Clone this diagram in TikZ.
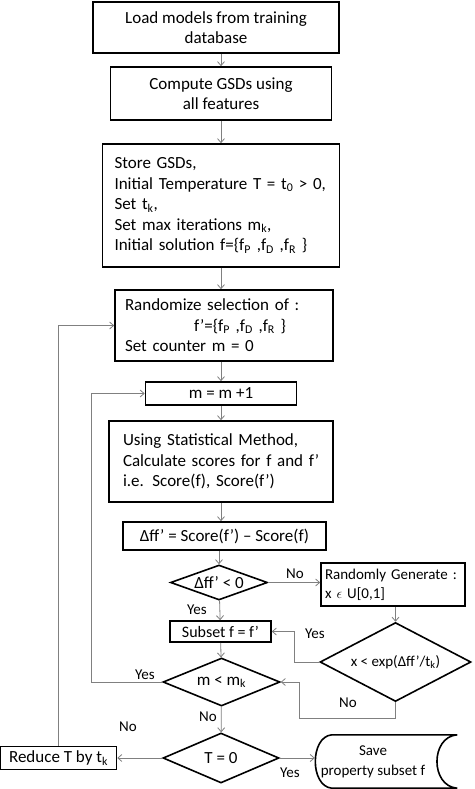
\documentclass[tikz,border=0pt]{standalone}
\usepackage{fontspec}
\setmainfont{Carlito}
\usetikzlibrary{shapes.geometric,arrows.meta}
\newcommand{\tightsp}{\spaceskip=0.17em\relax}

\begin{document}
\begin{tikzpicture}[x=1pt,y=-1pt,
  box/.style={draw,line width=1.6pt,inner sep=2pt,font=\fontsize{17}{20.5}\selectfont},
  lbox/.style={box,align=left,anchor=center,font=\fontsize{17}{20.5}\selectfont\tightsp},
  dia/.style={draw,diamond,line width=1.6pt,inner sep=0pt,font=\fontsize{17}{20}\selectfont},
  conn/.style={draw=gray,line width=.8pt,-{Straight Barb[length=4pt,width=7pt]}},
  lbl/.style={font=\fontsize{15}{18}\selectfont,inner sep=0pt}]
\useasboundingbox (0,0) rectangle (474,789);
\fill[white] (0,0) rectangle (474,789);
\node[box,align=center,minimum width=246,minimum height=51] (load) at (216,27.5) {Load models from training\\database};
\node[box,align=center,minimum width=221,minimum height=53] (comp) at (221,93.5) {Compute GSDs using\\all features};
\node[lbox,text width=213,inner xsep=12pt,minimum height=123] (store) at (221,205.5) {Store GSDs,\\\mbox{Initial Temperature T = t\textsubscript{0} > 0,}\\Set t\textsubscript{k},\\Set max iterations m\textsubscript{k},\\Initial solution f=\{f\textsubscript{P} ,f\textsubscript{D} ,f\textsubscript{R} \}};
\node[lbox,text width=198,inner xsep=10pt,minimum height=71] (rnd) at (224,325.5) {Randomize selection of :\\\hspace*{69pt}f’=\{f\textsubscript{P} ,f\textsubscript{D} ,f\textsubscript{R} \}\\Set counter m = 0};
\node[box,minimum width=151,minimum height=23] (incr) at (221,393.5) {m = m +1};
\node[lbox,text width=196,inner xsep=14pt,minimum height=81] (score) at (221,461.5) {Using Statistical Method,\\\mbox{Calculate scores for f and f’}\\i.e. Score(f), Score(f’)};
\node[box,minimum width=203,minimum height=28] (delta) at (224.5,536) {Δff’ = Score(f’) – Score(f)};
\node[dia,minimum width=97,minimum height=35,aspect=2.8] (chk) at (219,582.5) {Δff’ < 0};
\node[lbox,font=\fontsize{15}{19}\selectfont,text width=136,inner xsep=4pt,minimum height=43] (rgen) at (393,584.5) {Randomly Generate :\\x $\epsilon$ U[0,1]};
\node[box,font=\fontsize{16}{19}\selectfont,minimum width=101,minimum height=21,inner sep=0pt] (subs) at (220.5,631.5) {Subset f = f’};
\node[dia,font=\fontsize{15}{18}\selectfont,minimum width=151,minimum height=79,aspect=1.9] (accept) at (395.5,662) {x < exp(Δff’/t\textsubscript{k})};
\node[dia,minimum width=117,minimum height=48,aspect=2.4] (iter) at (221.5,682) {m < m\textsubscript{k}};
\node[dia,minimum width=116,minimum height=50,aspect=2.3] (stop) at (221,758) {T = 0};
\node[box,minimum width=116,minimum height=23,inner sep=0pt] (reduce) at (58.5,758) {Reduce T by t\textsubscript{k}};
\node[align=center,font=\fontsize{15}{20}\selectfont,minimum width=116,minimum height=53,inner sep=0pt] (save) at (373,761.5) {Save\\property subset f};
\draw[line width=1.6pt] ([xshift=17pt]save.north west) -- ([xshift=26pt]save.north east)
  .. controls ([xshift=-1pt,yshift=-2pt]save.north east) and ([xshift=-1pt,yshift=2pt]save.south east) .. ([xshift=26pt]save.south east)
  -- ([xshift=17pt]save.south west)
  .. controls ([xshift=-5pt,yshift=2pt]save.south west) and ([xshift=-5pt,yshift=-2pt]save.north west) .. ([xshift=17pt]save.north west);
\coordinate (loopm) at (91,393.5);
\coordinate (backno) at (299,718);
\draw[conn] (load.south -| comp) -- (comp);
\draw[conn] (comp) -- (store);
\draw[conn] (store) -- (store |- rnd.north);
\draw[conn] (rnd.south -| incr) -- (incr);
\draw[conn] (incr) -- (score);
\draw[conn] (score) -- (score |- delta.north);
\draw[conn] (delta.south -| chk) -- (chk);
\draw[conn] (chk.east) -- (chk.east -| rgen.west);
\draw[conn] (chk) -- (subs);
\draw[conn] (rgen.south -| accept) -- (accept);
\draw[conn] (accept.west) -- ++(-25,0) |- (subs.east);
\draw[conn] (subs) -- (iter);
\draw[conn] (iter.west) -| (loopm) -- (incr.west);
\draw[conn] (accept.south) |- (backno) |- (iter.east);
\draw[conn] (iter) -- (stop);
\draw[conn] (stop) -- (reduce);
\draw[conn] (reduce.north) |- (rnd.west);
\draw[conn] (stop.east) -- (stop.east -| save.west);
\node[lbl] (no1) at (295,574) {No};
\node[lbl] (yes1) at (197,610) {Yes};
\node[lbl] (yes2) at (315,634) {Yes};
\node[lbl] (yes3) at (145,675) {Yes};
\node[lbl] (no2) at (348,703) {No};
\node[lbl] (no3) at (208,717) {No};
\node[lbl] (no4) at (128,727) {No};
\node[lbl] (yes4) at (290,773) {Yes};
\end{tikzpicture}
\end{document}
